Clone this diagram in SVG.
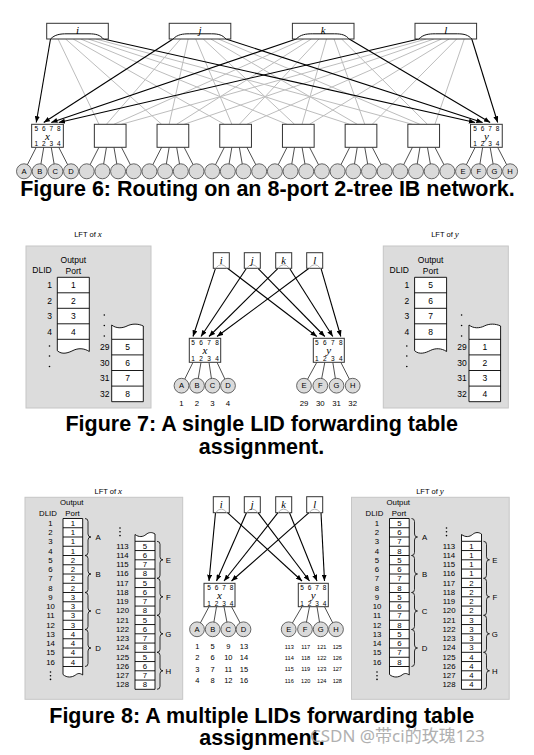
<svg xmlns="http://www.w3.org/2000/svg" width="534" height="755" viewBox="0 0 534 755">
<style>
text{font-family:"Liberation Sans",Arial,sans-serif;fill:#000}
.it{font-family:"Liberation Serif","Times New Roman",serif;font-style:italic}
.cap{font-size:21.5px;font-weight:bold;text-anchor:middle}
.sw{fill:#fff;stroke:#333;stroke-width:1}
.arc{fill:none;stroke:#111;stroke-width:1}
.garc{fill:none;stroke:#aaa;stroke-width:0.9}
.leaf{fill:#dadada;stroke:#444;stroke-width:0.8}
.gl{stroke:#bdbdbd;stroke-width:1;fill:none}
.bl{stroke:#000;stroke-width:1.1;fill:none;marker-end:url(#ah)}
.ll{stroke:#222;stroke-width:0.8;fill:none}
.panel{fill:#dcdcdc;stroke:#c6c6c6;stroke-width:1}
.cell{fill:#fff;stroke:#000;stroke-width:0.9}
.rl{fill:none;stroke:#000;stroke-width:0.9}
.br{fill:none;stroke:#000;stroke-width:0.8}
.m{text-anchor:middle}
.p{font-size:6.5px;text-anchor:middle}
.t7{font-size:8.5px;text-anchor:middle}
.t8{font-size:7.8px;text-anchor:middle}
.cl{font-size:7.6px;text-anchor:middle}
.sl{font-size:11px;text-anchor:middle}
.dot{fill:#000}
</style>
<defs>
<marker id="ah" viewBox="0 0 10 8" refX="10" refY="4" markerWidth="6.5" markerHeight="5" markerUnits="userSpaceOnUse" orient="auto"><path d="M0,0L10,4L0,8z" fill="#000"/></marker>
</defs>

<!-- ===== Connectors ===== -->
<g id="connectors">
<path class="gl" d="M58.07,39L98.95,124.3M65.64,39L161.65,124.3M73.21,39L224.35,124.3M80.79,39L287.05,124.3M88.36,39L349.75,124.3M95.93,39L412.45,124.3
M180.57,39L106.45,124.3M188.14,39L169.15,124.3M195.71,39L231.85,124.3M203.29,39L294.55,124.3M210.86,39L357.25,124.3M218.43,39L419.95,124.3
M303.77,39L113.95,124.3M311.34,39L176.65,124.3M318.91,39L239.35,124.3M326.49,39L302.05,124.3M334.06,39L364.75,124.3M341.63,39L427.45,124.3
M426.37,39L121.45,124.3M433.94,39L184.15,124.3M441.51,39L246.85,124.3M449.09,39L309.55,124.3M456.66,39L372.25,124.3M464.23,39L434.95,124.3"/>
<line class="bl" x1="50.5" y1="39" x2="36.25" y2="122.5"/>
<line class="bl" x1="173" y1="39" x2="43.75" y2="122.5"/>
<line class="bl" x1="296.2" y1="39" x2="51.25" y2="122.5"/>
<line class="bl" x1="418.8" y1="39" x2="58.75" y2="122.5"/>
<line class="bl" x1="103.5" y1="39" x2="475.15" y2="122.5"/>
<line class="bl" x1="226" y1="39" x2="482.65" y2="122.5"/>
<line class="bl" x1="349.2" y1="39" x2="490.15" y2="122.5"/>
<line class="bl" x1="471.8" y1="39" x2="497.65" y2="122.5"/>
<path class="ll" d="M36.25,147.3L24,171.3M43.75,147.3L39.68,171.3M51.25,147.3L55.36,171.3M58.75,147.3L71.04,171.3
M98.95,147.3L86.72,171.3M106.45,147.3L102.4,171.3M113.95,147.3L118.08,171.3M121.45,147.3L133.76,171.3
M161.65,147.3L149.44,171.3M169.15,147.3L165.12,171.3M176.65,147.3L180.8,171.3M184.15,147.3L196.48,171.3
M224.35,147.3L212.16,171.3M231.85,147.3L227.84,171.3M239.35,147.3L243.52,171.3M246.85,147.3L259.2,171.3
M287.05,147.3L274.88,171.3M294.55,147.3L290.56,171.3M302.05,147.3L306.24,171.3M309.55,147.3L321.92,171.3
M349.75,147.3L337.6,171.3M357.25,147.3L353.28,171.3M364.75,147.3L368.96,171.3M372.25,147.3L384.64,171.3
M412.45,147.3L400.32,171.3M419.95,147.3L416,171.3M427.45,147.3L431.68,171.3M434.95,147.3L447.36,171.3
M475.15,147.3L463.04,171.3M482.65,147.3L478.72,171.3M490.15,147.3L494.4,171.3M497.65,147.3L510.08,171.3"/>

<line class="bl" x1="215.5" y1="268.3" x2="193" y2="336.5"/>
<line class="bl" x1="246.5" y1="268.3" x2="201" y2="336.5"/>
<line class="bl" x1="278" y1="268.3" x2="209" y2="336.5"/>
<line class="bl" x1="309" y1="268.3" x2="217" y2="336.5"/>
<line class="bl" x1="227.5" y1="268.3" x2="316.8" y2="336.5"/>
<line class="bl" x1="258" y1="268.3" x2="324.8" y2="336.5"/>
<line class="bl" x1="289.5" y1="268.3" x2="332.8" y2="336.5"/>
<line class="bl" x1="321" y1="268.3" x2="340.8" y2="336.5"/>
<path class="ll" d="M193,362.3L181.5,385.7M201,362.3L197,385.7M209,362.3L212.5,385.7M217,362.3L228,385.7
M316.8,362.3L304,385.7M324.8,362.3L320.3,385.7M332.8,362.3L336.5,385.7M340.8,362.3L352.7,385.7"/>

<line class="bl" x1="215.5" y1="512.7" x2="209" y2="581"/>
<line class="bl" x1="246.5" y1="512.7" x2="216.5" y2="581"/>
<line class="bl" x1="278" y1="512.7" x2="224" y2="581"/>
<line class="bl" x1="309" y1="512.7" x2="231.5" y2="581"/>
<line class="bl" x1="227.5" y1="512.7" x2="302" y2="581"/>
<line class="bl" x1="258" y1="512.7" x2="309.5" y2="581"/>
<line class="bl" x1="289.5" y1="512.7" x2="317" y2="581"/>
<line class="bl" x1="321" y1="512.7" x2="324.5" y2="581"/>
<path class="ll" d="M209,606.7L197,629.3M216.5,606.7L212.7,629.3M224,606.7L228.3,629.3M231.5,606.7L243.5,629.3
M302,606.7L288.7,629.3M309.5,606.7L305,629.3M317,606.7L320.7,629.3M324.5,606.7L336,629.3"/>
</g>

<!-- ===== Figure 6 nodes ===== -->
<g id="f6-i"><rect class="sw" x="46.7" y="23.3" width="61.6" height="15.7"/><path class="arc" d="M50.5,39C55,34.5 60,33.8 67,33.8H89C96,33.8 100,35 103.5,39"/><text class="it sl" x="77.5" y="34.3">i</text></g>
<g id="f6-j"><rect class="sw" x="169.2" y="23.3" width="61.6" height="15.7"/><path class="arc" d="M173,39C177.5,34.5 182.5,33.8 189.5,33.8H211.5C218.5,33.8 222.5,35 226,39"/><text class="it sl" x="200" y="34.3">j</text></g>
<g id="f6-k"><rect class="sw" x="292.4" y="23.3" width="61.6" height="15.7"/><path class="arc" d="M296.2,39C300.7,34.5 305.7,33.8 312.7,33.8H334.7C341.7,33.8 345.7,35 349.2,39"/><text class="it sl" x="323.2" y="34.3">k</text></g>
<g id="f6-l"><rect class="sw" x="415" y="23.3" width="61.6" height="15.7"/><path class="arc" d="M418.8,39C423.3,34.5 428.3,33.8 435.3,33.8H457.3C464.3,33.8 468.3,35 471.8,39"/><text class="it sl" x="445.8" y="34.3">l</text></g>

<g id="f6-x"><rect class="sw" x="31.65" y="124.3" width="31.7" height="23"/>
<text class="p" x="36.25" y="130.6">5</text><text class="p" x="43.75" y="130.6">6</text><text class="p" x="51.25" y="130.6">7</text><text class="p" x="58.75" y="130.6">8</text>
<text class="it sl" x="47.5" y="139.6">x</text>
<text class="p" x="36.25" y="146.4">1</text><text class="p" x="43.75" y="146.4">2</text><text class="p" x="51.25" y="146.4">3</text><text class="p" x="58.75" y="146.4">4</text></g>
<g id="f6-s1"><rect class="sw" x="94.35" y="124.3" width="31.7" height="23"/></g>
<g id="f6-s2"><rect class="sw" x="157.05" y="124.3" width="31.7" height="23"/></g>
<g id="f6-s3"><rect class="sw" x="219.75" y="124.3" width="31.7" height="23"/></g>
<g id="f6-s4"><rect class="sw" x="282.45" y="124.3" width="31.7" height="23"/></g>
<g id="f6-s5"><rect class="sw" x="345.15" y="124.3" width="31.7" height="23"/></g>
<g id="f6-s6"><rect class="sw" x="407.85" y="124.3" width="31.7" height="23"/></g>
<g id="f6-y"><rect class="sw" x="470.55" y="124.3" width="31.7" height="23"/>
<text class="p" x="475.15" y="130.6">5</text><text class="p" x="482.65" y="130.6">6</text><text class="p" x="490.15" y="130.6">7</text><text class="p" x="497.65" y="130.6">8</text>
<text class="it sl" x="486.4" y="139.6">y</text>
<text class="p" x="475.15" y="146.4">1</text><text class="p" x="482.65" y="146.4">2</text><text class="p" x="490.15" y="146.4">3</text><text class="p" x="497.65" y="146.4">4</text></g>

<g id="f6-hosts">
<circle class="leaf" cx="24" cy="171.3" r="7.5"/><circle class="leaf" cx="39.68" cy="171.3" r="7.5"/><circle class="leaf" cx="55.36" cy="171.3" r="7.5"/><circle class="leaf" cx="71.04" cy="171.3" r="7.5"/>
<circle class="leaf" cx="86.72" cy="171.3" r="7.5"/><circle class="leaf" cx="102.4" cy="171.3" r="7.5"/><circle class="leaf" cx="118.08" cy="171.3" r="7.5"/><circle class="leaf" cx="133.76" cy="171.3" r="7.5"/>
<circle class="leaf" cx="149.44" cy="171.3" r="7.5"/><circle class="leaf" cx="165.12" cy="171.3" r="7.5"/><circle class="leaf" cx="180.8" cy="171.3" r="7.5"/><circle class="leaf" cx="196.48" cy="171.3" r="7.5"/>
<circle class="leaf" cx="212.16" cy="171.3" r="7.5"/><circle class="leaf" cx="227.84" cy="171.3" r="7.5"/><circle class="leaf" cx="243.52" cy="171.3" r="7.5"/><circle class="leaf" cx="259.2" cy="171.3" r="7.5"/>
<circle class="leaf" cx="274.88" cy="171.3" r="7.5"/><circle class="leaf" cx="290.56" cy="171.3" r="7.5"/><circle class="leaf" cx="306.24" cy="171.3" r="7.5"/><circle class="leaf" cx="321.92" cy="171.3" r="7.5"/>
<circle class="leaf" cx="337.6" cy="171.3" r="7.5"/><circle class="leaf" cx="353.28" cy="171.3" r="7.5"/><circle class="leaf" cx="368.96" cy="171.3" r="7.5"/><circle class="leaf" cx="384.64" cy="171.3" r="7.5"/>
<circle class="leaf" cx="400.32" cy="171.3" r="7.5"/><circle class="leaf" cx="416" cy="171.3" r="7.5"/><circle class="leaf" cx="431.68" cy="171.3" r="7.5"/><circle class="leaf" cx="447.36" cy="171.3" r="7.5"/>
<circle class="leaf" cx="463.04" cy="171.3" r="7.5"/><circle class="leaf" cx="478.72" cy="171.3" r="7.5"/><circle class="leaf" cx="494.4" cy="171.3" r="7.5"/><circle class="leaf" cx="510.08" cy="171.3" r="7.5"/>
<text class="cl" x="24" y="174">A</text><text class="cl" x="39.68" y="174">B</text><text class="cl" x="55.36" y="174">C</text><text class="cl" x="71.04" y="174">D</text>
<text class="cl" x="463.04" y="174">E</text><text class="cl" x="478.72" y="174">F</text><text class="cl" x="494.4" y="174">G</text><text class="cl" x="510.08" y="174">H</text>
</g>
<text class="cap" x="267.5" y="195.5">Figure 6: Routing on an 8-port 2-tree IB network.</text>

<!-- ===== Figure 7 ===== -->
<g id="f7-lftx">
<text class="m" x="88" y="237" font-size="7.5">LFT of <tspan class="it" font-size="9">x</tspan></text>
<rect class="panel" x="26" y="246" width="125" height="162"/>
<text class="t7" x="42" y="272.5">DLID</text>
<text class="t7" x="73.3" y="263.3">Output</text>
<text class="t7" x="73.3" y="274">Port</text>
<path class="cell" d="M57.3,277.3H89.3V351.5C84,348 78,348 73,350.5C68,353 62,355 57.3,350.7Z"/>
<path class="rl" d="M57.3,292.8h32M57.3,308.3h32M57.3,323.8h32M57.3,339.3h32"/>
<text class="t7" x="49.5" y="288">1</text><text class="t7" x="49.5" y="303.5">2</text><text class="t7" x="49.5" y="319">3</text><text class="t7" x="49.5" y="334.5">4</text>
<text class="t7" x="73.3" y="288">1</text><text class="t7" x="73.3" y="303.5">2</text><text class="t7" x="73.3" y="319">3</text><text class="t7" x="73.3" y="334.5">4</text>
<circle class="dot" cx="49.5" cy="346" r="0.8"/><circle class="dot" cx="49.5" cy="356" r="0.8"/><circle class="dot" cx="49.5" cy="366.5" r="0.8"/>
<path class="cell" d="M111.7,339.3V325C116,328.5 122,328.5 127,326C132,323.5 138,323.5 143.3,326V401.7H111.7Z"/>
<path class="rl" d="M111.7,339.3h31.6M111.7,354.9h31.6M111.7,370.5h31.6M111.7,386.1h31.6"/>
<text class="t7" x="104.7" y="350.1">29</text><text class="t7" x="104.7" y="365.7">30</text><text class="t7" x="104.7" y="381.3">31</text><text class="t7" x="104.7" y="396.9">32</text>
<text class="t7" x="127.5" y="350.1">5</text><text class="t7" x="127.5" y="365.7">6</text><text class="t7" x="127.5" y="381.3">7</text><text class="t7" x="127.5" y="396.9">8</text>
<circle class="dot" cx="104.3" cy="315" r="0.8"/><circle class="dot" cx="104.3" cy="325.5" r="0.8"/><circle class="dot" cx="104.3" cy="336" r="0.8"/>
</g>
<g id="f7-lfty" transform="translate(357.3,0)">
<text class="m" x="87.7" y="236.5" font-size="7.5">LFT of <tspan class="it" font-size="9">y</tspan></text>
<rect class="panel" x="26" y="246" width="125" height="162"/>
<text class="t7" x="42" y="272.5">DLID</text>
<text class="t7" x="73.3" y="263.3">Output</text>
<text class="t7" x="73.3" y="274">Port</text>
<path class="cell" d="M57.3,277.3H89.3V351.5C84,348 78,348 73,350.5C68,353 62,355 57.3,350.7Z"/>
<path class="rl" d="M57.3,292.8h32M57.3,308.3h32M57.3,323.8h32M57.3,339.3h32"/>
<text class="t7" x="49.5" y="288">1</text><text class="t7" x="49.5" y="303.5">2</text><text class="t7" x="49.5" y="319">3</text><text class="t7" x="49.5" y="334.5">4</text>
<text class="t7" x="73.3" y="288">5</text><text class="t7" x="73.3" y="303.5">6</text><text class="t7" x="73.3" y="319">7</text><text class="t7" x="73.3" y="334.5">8</text>
<circle class="dot" cx="49.5" cy="346" r="0.8"/><circle class="dot" cx="49.5" cy="356" r="0.8"/><circle class="dot" cx="49.5" cy="366.5" r="0.8"/>
<path class="cell" d="M111.7,339.3V325C116,328.5 122,328.5 127,326C132,323.5 138,323.5 143.3,326V401.7H111.7Z"/>
<path class="rl" d="M111.7,339.3h31.6M111.7,354.9h31.6M111.7,370.5h31.6M111.7,386.1h31.6"/>
<text class="t7" x="104.7" y="350.1">29</text><text class="t7" x="104.7" y="365.7">30</text><text class="t7" x="104.7" y="381.3">31</text><text class="t7" x="104.7" y="396.9">32</text>
<text class="t7" x="127.5" y="350.1">1</text><text class="t7" x="127.5" y="365.7">2</text><text class="t7" x="127.5" y="381.3">3</text><text class="t7" x="127.5" y="396.9">4</text>
<circle class="dot" cx="104.3" cy="315" r="0.8"/><circle class="dot" cx="104.3" cy="325.5" r="0.8"/><circle class="dot" cx="104.3" cy="336" r="0.8"/>
</g>

<g id="f7-i"><rect class="sw" x="213.3" y="252.7" width="16" height="15.6"/><path class="garc" d="M215.6,268.3Q221.3,261 227,268.3"/><text class="it" x="221.3" y="264" font-size="10.5" text-anchor="middle">i</text></g>
<g id="f7-j"><rect class="sw" x="244.3" y="252.7" width="16" height="15.6"/><path class="garc" d="M246.6,268.3Q252.3,261 258,268.3"/><text class="it" x="252.3" y="264" font-size="10.5" text-anchor="middle">j</text></g>
<g id="f7-k"><rect class="sw" x="275.7" y="252.7" width="16" height="15.6"/><path class="garc" d="M278,268.3Q283.7,261 289.4,268.3"/><text class="it" x="283.7" y="264" font-size="10.5" text-anchor="middle">k</text></g>
<g id="f7-l"><rect class="sw" x="306.7" y="252.7" width="16" height="15.6"/><path class="garc" d="M309,268.3Q314.7,261 320.4,268.3"/><text class="it" x="314.7" y="264" font-size="10.5" text-anchor="middle">l</text></g>

<g id="f7-x"><rect class="sw" x="189.3" y="338.3" width="31.4" height="24"/>
<text class="p" x="193" y="344.6">5</text><text class="p" x="201" y="344.6">6</text><text class="p" x="209" y="344.6">7</text><text class="p" x="217" y="344.6">8</text>
<text class="it sl" x="205" y="353.6">x</text>
<text class="p" x="193" y="361">1</text><text class="p" x="201" y="361">2</text><text class="p" x="209" y="361">3</text><text class="p" x="217" y="361">4</text></g>
<g id="f7-y"><rect class="sw" x="313.3" y="338.3" width="31" height="24"/>
<text class="p" x="316.8" y="344.6">5</text><text class="p" x="324.8" y="344.6">6</text><text class="p" x="332.8" y="344.6">7</text><text class="p" x="340.8" y="344.6">8</text>
<text class="it sl" x="328.8" y="353.6">y</text>
<text class="p" x="316.8" y="361">1</text><text class="p" x="324.8" y="361">2</text><text class="p" x="332.8" y="361">3</text><text class="p" x="340.8" y="361">4</text></g>
<g id="f7-hosts">
<circle class="leaf" cx="181.5" cy="385.7" r="7.4"/><circle class="leaf" cx="197" cy="385.7" r="7.4"/><circle class="leaf" cx="212.5" cy="385.7" r="7.4"/><circle class="leaf" cx="228" cy="385.7" r="7.4"/>
<circle class="leaf" cx="304" cy="385.7" r="7.4"/><circle class="leaf" cx="320.3" cy="385.7" r="7.4"/><circle class="leaf" cx="336.5" cy="385.7" r="7.4"/><circle class="leaf" cx="352.7" cy="385.7" r="7.4"/>
<text class="cl" x="181.5" y="388.4">A</text><text class="cl" x="197" y="388.4">B</text><text class="cl" x="212.5" y="388.4">C</text><text class="cl" x="228" y="388.4">D</text>
<text class="cl" x="304" y="388.4">E</text><text class="cl" x="320.3" y="388.4">F</text><text class="cl" x="336.5" y="388.4">G</text><text class="cl" x="352.7" y="388.4">H</text>
<text class="t8" x="181.5" y="406">1</text><text class="t8" x="197" y="406">2</text><text class="t8" x="212.5" y="406">3</text><text class="t8" x="228" y="406">4</text>
<text class="t8" x="304" y="406">29</text><text class="t8" x="320.3" y="406">30</text><text class="t8" x="336.5" y="406">31</text><text class="t8" x="352.7" y="406">32</text>
</g>
<text class="cap" x="261.7" y="430.5">Figure 7: A single LID forwarding table</text>
<text class="cap" x="261.5" y="453.5">assignment.</text>

<!-- ===== Figure 8 ===== -->
<g id="f8-lftx">
<text class="m" x="108.3" y="494" font-size="7.5">LFT of <tspan class="it" font-size="9">x</tspan></text>
<rect class="panel" x="25" y="497.3" width="157.7" height="202"/>
<text class="t8" x="71.7" y="505">Output</text>
<text class="t8" x="48" y="515.5">DLID</text>
<text class="t8" x="72.5" y="515.5">Port</text>
<path class="cell" d="M63,518.5H82.7V675C80,673 78,673 75.5,675C72,677.5 67,678 63,674.5Z"/>
<path class="rl" d="M63,527.75h19.7M63,537h19.7M63,546.25h19.7M63,555.5h19.7M63,564.75h19.7M63,574h19.7M63,583.25h19.7M63,592.5h19.7M63,601.75h19.7M63,611h19.7M63,620.25h19.7M63,629.5h19.7M63,638.75h19.7M63,648h19.7M63,657.25h19.7M63,666.5h19.7"/>
<text class="t8" x="50.5" y="525.9">1</text><text class="t8" x="50.5" y="535.15">2</text><text class="t8" x="50.5" y="544.4">3</text><text class="t8" x="50.5" y="553.65">4</text>
<text class="t8" x="50.5" y="562.9">5</text><text class="t8" x="50.5" y="572.15">6</text><text class="t8" x="50.5" y="581.4">7</text><text class="t8" x="50.5" y="590.65">8</text>
<text class="t8" x="50.5" y="599.9">9</text><text class="t8" x="50.5" y="609.15">10</text><text class="t8" x="50.5" y="618.4">11</text><text class="t8" x="50.5" y="627.65">12</text>
<text class="t8" x="50.5" y="636.9">13</text><text class="t8" x="50.5" y="646.15">14</text><text class="t8" x="50.5" y="655.4">15</text><text class="t8" x="50.5" y="664.65">16</text>
<text class="t8" x="72.85" y="525.9">1</text><text class="t8" x="72.85" y="535.15">1</text><text class="t8" x="72.85" y="544.4">1</text><text class="t8" x="72.85" y="553.65">1</text>
<text class="t8" x="72.85" y="562.9">2</text><text class="t8" x="72.85" y="572.15">2</text><text class="t8" x="72.85" y="581.4">2</text><text class="t8" x="72.85" y="590.65">2</text>
<text class="t8" x="72.85" y="599.9">3</text><text class="t8" x="72.85" y="609.15">3</text><text class="t8" x="72.85" y="618.4">3</text><text class="t8" x="72.85" y="627.65">3</text>
<text class="t8" x="72.85" y="636.9">4</text><text class="t8" x="72.85" y="646.15">4</text><text class="t8" x="72.85" y="655.4">4</text><text class="t8" x="72.85" y="664.65">4</text>
<path class="br" d="M85,518.5q3,0 3,3v12.5q0,3 3,3q-3,0 -3,3v12.5q0,3 -3,3M85,555.5q3,0 3,3v12.5q0,3 3,3q-3,0 -3,3v12.5q0,3 -3,3M85,592.5q3,0 3,3v12.5q0,3 3,3q-3,0 -3,3v12.5q0,3 -3,3M85,629.5q3,0 3,3v12.5q0,3 3,3q-3,0 -3,3v12.5q0,3 -3,3"/>
<text class="t8" x="98" y="540">A</text><text class="t8" x="98" y="577">B</text><text class="t8" x="98" y="614">C</text><text class="t8" x="98" y="651">D</text>
<circle class="dot" cx="50.5" cy="672" r="0.8"/><circle class="dot" cx="50.5" cy="675.7" r="0.8"/><circle class="dot" cx="50.5" cy="679.4" r="0.8"/>
<circle class="dot" cx="120" cy="528" r="0.8"/><circle class="dot" cx="120" cy="531.8" r="0.8"/><circle class="dot" cx="120" cy="535.6" r="0.8"/>
<path class="cell" d="M135,541.3V534.5C139,537.5 143,537 146,534.5C149,532 152,532 155,534V689.3H135Z"/>
<path class="rl" d="M135,541.3h20M135,550.55h20M135,559.8h20M135,569.05h20M135,578.3h20M135,587.55h20M135,596.8h20M135,606.05h20M135,615.3h20M135,624.55h20M135,633.8h20M135,643.05h20M135,652.3h20M135,661.55h20M135,670.8h20M135,680.05h20"/>
<text class="t8" x="122.5" y="548.7">113</text><text class="t8" x="122.5" y="557.95">114</text><text class="t8" x="122.5" y="567.2">115</text><text class="t8" x="122.5" y="576.45">116</text>
<text class="t8" x="122.5" y="585.7">117</text><text class="t8" x="122.5" y="594.95">118</text><text class="t8" x="122.5" y="604.2">119</text><text class="t8" x="122.5" y="613.45">120</text>
<text class="t8" x="122.5" y="622.7">121</text><text class="t8" x="122.5" y="631.95">122</text><text class="t8" x="122.5" y="641.2">123</text><text class="t8" x="122.5" y="650.45">124</text>
<text class="t8" x="122.5" y="659.7">125</text><text class="t8" x="122.5" y="668.95">126</text><text class="t8" x="122.5" y="678.2">127</text><text class="t8" x="122.5" y="687.45">128</text>
<text class="t8" x="145" y="548.7">5</text><text class="t8" x="145" y="557.95">6</text><text class="t8" x="145" y="567.2">7</text><text class="t8" x="145" y="576.45">8</text>
<text class="t8" x="145" y="585.7">5</text><text class="t8" x="145" y="594.95">6</text><text class="t8" x="145" y="604.2">7</text><text class="t8" x="145" y="613.45">8</text>
<text class="t8" x="145" y="622.7">5</text><text class="t8" x="145" y="631.95">6</text><text class="t8" x="145" y="641.2">7</text><text class="t8" x="145" y="650.45">8</text>
<text class="t8" x="145" y="659.7">5</text><text class="t8" x="145" y="668.95">6</text><text class="t8" x="145" y="678.2">7</text><text class="t8" x="145" y="687.45">8</text>
<path class="br" d="M157,541.3q3,0 3,3v12.5q0,3 3,3q-3,0 -3,3v12.5q0,3 -3,3M157,578.3q3,0 3,3v12.5q0,3 3,3q-3,0 -3,3v12.5q0,3 -3,3M157,615.3q3,0 3,3v12.5q0,3 3,3q-3,0 -3,3v12.5q0,3 -3,3M157,652.3q3,0 3,3v12.5q0,3 3,3q-3,0 -3,3v12.5q0,3 -3,3"/>
<text class="t8" x="168.3" y="562.8">E</text><text class="t8" x="168.3" y="599.8">F</text><text class="t8" x="168.3" y="636.8">G</text><text class="t8" x="168.3" y="673.8">H</text>
</g>

<g id="f8-lfty" transform="translate(326.5,0)">
<text class="m" x="103.5" y="494" font-size="7.5">LFT of <tspan class="it" font-size="9">y</tspan></text>
<rect class="panel" x="25" y="497.3" width="157.7" height="202"/>
<text class="t8" x="71.7" y="505">Output</text>
<text class="t8" x="48" y="515.5">DLID</text>
<text class="t8" x="72.5" y="515.5">Port</text>
<path class="cell" d="M63,518.5H82.7V675C80,673 78,673 75.5,675C72,677.5 67,678 63,674.5Z"/>
<path class="rl" d="M63,527.75h19.7M63,537h19.7M63,546.25h19.7M63,555.5h19.7M63,564.75h19.7M63,574h19.7M63,583.25h19.7M63,592.5h19.7M63,601.75h19.7M63,611h19.7M63,620.25h19.7M63,629.5h19.7M63,638.75h19.7M63,648h19.7M63,657.25h19.7M63,666.5h19.7"/>
<text class="t8" x="50.5" y="525.9">1</text><text class="t8" x="50.5" y="535.15">2</text><text class="t8" x="50.5" y="544.4">3</text><text class="t8" x="50.5" y="553.65">4</text>
<text class="t8" x="50.5" y="562.9">5</text><text class="t8" x="50.5" y="572.15">6</text><text class="t8" x="50.5" y="581.4">7</text><text class="t8" x="50.5" y="590.65">8</text>
<text class="t8" x="50.5" y="599.9">9</text><text class="t8" x="50.5" y="609.15">10</text><text class="t8" x="50.5" y="618.4">11</text><text class="t8" x="50.5" y="627.65">12</text>
<text class="t8" x="50.5" y="636.9">13</text><text class="t8" x="50.5" y="646.15">14</text><text class="t8" x="50.5" y="655.4">15</text><text class="t8" x="50.5" y="664.65">16</text>
<text class="t8" x="72.85" y="525.9">5</text><text class="t8" x="72.85" y="535.15">6</text><text class="t8" x="72.85" y="544.4">7</text><text class="t8" x="72.85" y="553.65">8</text>
<text class="t8" x="72.85" y="562.9">5</text><text class="t8" x="72.85" y="572.15">6</text><text class="t8" x="72.85" y="581.4">7</text><text class="t8" x="72.85" y="590.65">8</text>
<text class="t8" x="72.85" y="599.9">5</text><text class="t8" x="72.85" y="609.15">6</text><text class="t8" x="72.85" y="618.4">7</text><text class="t8" x="72.85" y="627.65">8</text>
<text class="t8" x="72.85" y="636.9">5</text><text class="t8" x="72.85" y="646.15">6</text><text class="t8" x="72.85" y="655.4">7</text><text class="t8" x="72.85" y="664.65">8</text>
<path class="br" d="M85,518.5q3,0 3,3v12.5q0,3 3,3q-3,0 -3,3v12.5q0,3 -3,3M85,555.5q3,0 3,3v12.5q0,3 3,3q-3,0 -3,3v12.5q0,3 -3,3M85,592.5q3,0 3,3v12.5q0,3 3,3q-3,0 -3,3v12.5q0,3 -3,3M85,629.5q3,0 3,3v12.5q0,3 3,3q-3,0 -3,3v12.5q0,3 -3,3"/>
<text class="t8" x="98" y="540">A</text><text class="t8" x="98" y="577">B</text><text class="t8" x="98" y="614">C</text><text class="t8" x="98" y="651">D</text>
<circle class="dot" cx="50.5" cy="672" r="0.8"/><circle class="dot" cx="50.5" cy="675.7" r="0.8"/><circle class="dot" cx="50.5" cy="679.4" r="0.8"/>
<circle class="dot" cx="120" cy="528" r="0.8"/><circle class="dot" cx="120" cy="531.8" r="0.8"/><circle class="dot" cx="120" cy="535.6" r="0.8"/>
<path class="cell" d="M135,541.3V534.5C139,537.5 143,537 146,534.5C149,532 152,532 155,534V689.3H135Z"/>
<path class="rl" d="M135,541.3h20M135,550.55h20M135,559.8h20M135,569.05h20M135,578.3h20M135,587.55h20M135,596.8h20M135,606.05h20M135,615.3h20M135,624.55h20M135,633.8h20M135,643.05h20M135,652.3h20M135,661.55h20M135,670.8h20M135,680.05h20"/>
<text class="t8" x="122.5" y="548.7">113</text><text class="t8" x="122.5" y="557.95">114</text><text class="t8" x="122.5" y="567.2">115</text><text class="t8" x="122.5" y="576.45">116</text>
<text class="t8" x="122.5" y="585.7">117</text><text class="t8" x="122.5" y="594.95">118</text><text class="t8" x="122.5" y="604.2">119</text><text class="t8" x="122.5" y="613.45">120</text>
<text class="t8" x="122.5" y="622.7">121</text><text class="t8" x="122.5" y="631.95">122</text><text class="t8" x="122.5" y="641.2">123</text><text class="t8" x="122.5" y="650.45">124</text>
<text class="t8" x="122.5" y="659.7">125</text><text class="t8" x="122.5" y="668.95">126</text><text class="t8" x="122.5" y="678.2">127</text><text class="t8" x="122.5" y="687.45">128</text>
<text class="t8" x="145" y="548.7">1</text><text class="t8" x="145" y="557.95">1</text><text class="t8" x="145" y="567.2">1</text><text class="t8" x="145" y="576.45">1</text>
<text class="t8" x="145" y="585.7">2</text><text class="t8" x="145" y="594.95">2</text><text class="t8" x="145" y="604.2">2</text><text class="t8" x="145" y="613.45">2</text>
<text class="t8" x="145" y="622.7">3</text><text class="t8" x="145" y="631.95">3</text><text class="t8" x="145" y="641.2">3</text><text class="t8" x="145" y="650.45">3</text>
<text class="t8" x="145" y="659.7">4</text><text class="t8" x="145" y="668.95">4</text><text class="t8" x="145" y="678.2">4</text><text class="t8" x="145" y="687.45">4</text>
<path class="br" d="M157,541.3q3,0 3,3v12.5q0,3 3,3q-3,0 -3,3v12.5q0,3 -3,3M157,578.3q3,0 3,3v12.5q0,3 3,3q-3,0 -3,3v12.5q0,3 -3,3M157,615.3q3,0 3,3v12.5q0,3 3,3q-3,0 -3,3v12.5q0,3 -3,3M157,652.3q3,0 3,3v12.5q0,3 3,3q-3,0 -3,3v12.5q0,3 -3,3"/>
<text class="t8" x="168.3" y="562.8">E</text><text class="t8" x="168.3" y="599.8">F</text><text class="t8" x="168.3" y="636.8">G</text><text class="t8" x="168.3" y="673.8">H</text>
</g>

<g id="f8-i"><rect class="sw" x="213.3" y="496.7" width="16" height="16"/><path class="garc" d="M215.6,512.7Q221.3,505.4 227,512.7"/><text class="it" x="221.3" y="508.4" font-size="10.5" text-anchor="middle">i</text></g>
<g id="f8-j"><rect class="sw" x="244.3" y="496.7" width="16" height="16"/><path class="garc" d="M246.6,512.7Q252.3,505.4 258,512.7"/><text class="it" x="252.3" y="508.4" font-size="10.5" text-anchor="middle">j</text></g>
<g id="f8-k"><rect class="sw" x="275.7" y="496.7" width="16" height="16"/><path class="garc" d="M278,512.7Q283.7,505.4 289.4,512.7"/><text class="it" x="283.7" y="508.4" font-size="10.5" text-anchor="middle">k</text></g>
<g id="f8-l"><rect class="sw" x="306.7" y="496.7" width="16" height="16"/><path class="garc" d="M309,512.7Q314.7,505.4 320.4,512.7"/><text class="it" x="314.7" y="508.4" font-size="10.5" text-anchor="middle">l</text></g>

<g id="f8-x"><rect class="sw" x="204" y="583.3" width="31" height="23.4"/>
<text class="p" x="209" y="589.5">5</text><text class="p" x="216.5" y="589.5">6</text><text class="p" x="224" y="589.5">7</text><text class="p" x="231.5" y="589.5">8</text>
<text class="it sl" x="219.5" y="598.6">x</text>
<text class="p" x="209" y="605.6">1</text><text class="p" x="216.5" y="605.6">2</text><text class="p" x="224" y="605.6">3</text><text class="p" x="231.5" y="605.6">4</text></g>
<g id="f8-y"><rect class="sw" x="298.3" y="583.3" width="30" height="23.4"/>
<text class="p" x="302" y="589.5">5</text><text class="p" x="309.5" y="589.5">6</text><text class="p" x="317" y="589.5">7</text><text class="p" x="324.5" y="589.5">8</text>
<text class="it sl" x="313.3" y="598.6">y</text>
<text class="p" x="302" y="605.6">1</text><text class="p" x="309.5" y="605.6">2</text><text class="p" x="317" y="605.6">3</text><text class="p" x="324.5" y="605.6">4</text></g>
<g id="f8-hosts">
<circle class="leaf" cx="197" cy="629.3" r="7.4"/><circle class="leaf" cx="212.7" cy="629.3" r="7.4"/><circle class="leaf" cx="228.3" cy="629.3" r="7.4"/><circle class="leaf" cx="243.5" cy="629.3" r="7.4"/>
<circle class="leaf" cx="288.7" cy="629.3" r="7.4"/><circle class="leaf" cx="305" cy="629.3" r="7.4"/><circle class="leaf" cx="320.7" cy="629.3" r="7.4"/><circle class="leaf" cx="336" cy="629.3" r="7.4"/>
<text class="cl" x="197" y="632">A</text><text class="cl" x="212.7" y="632">B</text><text class="cl" x="228.3" y="632">C</text><text class="cl" x="243.5" y="632">D</text>
<text class="cl" x="288.7" y="632">E</text><text class="cl" x="305" y="632">F</text><text class="cl" x="320.7" y="632">G</text><text class="cl" x="336" y="632">H</text>
<g font-size="7.5" text-anchor="middle">
<text x="197.3" y="649">1</text><text x="197.3" y="660.3">2</text><text x="197.3" y="671.7">3</text><text x="197.3" y="683">4</text>
<text x="212.7" y="649">5</text><text x="212.7" y="660.3">6</text><text x="212.7" y="671.7">7</text><text x="212.7" y="683">8</text>
<text x="228.3" y="649">9</text><text x="228.3" y="660.3">10</text><text x="228.3" y="671.7">11</text><text x="228.3" y="683">12</text>
<text x="244" y="649">13</text><text x="244" y="660.3">14</text><text x="244" y="671.7">15</text><text x="244" y="683">16</text>
</g>
<g font-size="5.6" text-anchor="middle">
<text x="289.3" y="648.5">113</text><text x="289.3" y="659.8">114</text><text x="289.3" y="671.2">115</text><text x="289.3" y="682.5">116</text>
<text x="305.7" y="648.5">117</text><text x="305.7" y="659.8">118</text><text x="305.7" y="671.2">119</text><text x="305.7" y="682.5">120</text>
<text x="321.7" y="648.5">121</text><text x="321.7" y="659.8">122</text><text x="321.7" y="671.2">123</text><text x="321.7" y="682.5">124</text>
<text x="337.3" y="648.5">125</text><text x="337.3" y="659.8">126</text><text x="337.3" y="671.2">127</text><text x="337.3" y="682.5">128</text>
</g>
</g>
<text class="cap" x="261.7" y="722.7">Figure 8: A multiple LIDs forwarding table</text>
<text class="cap" x="262" y="744.5">assignment.</text>
<text x="310" y="741.5" font-size="17" style="font-family:'Noto Sans','Noto Sans CJK SC',sans-serif;fill:#a8a8a8" opacity="0.9">CSDN @带ci的玫瑰123</text>
</svg>
